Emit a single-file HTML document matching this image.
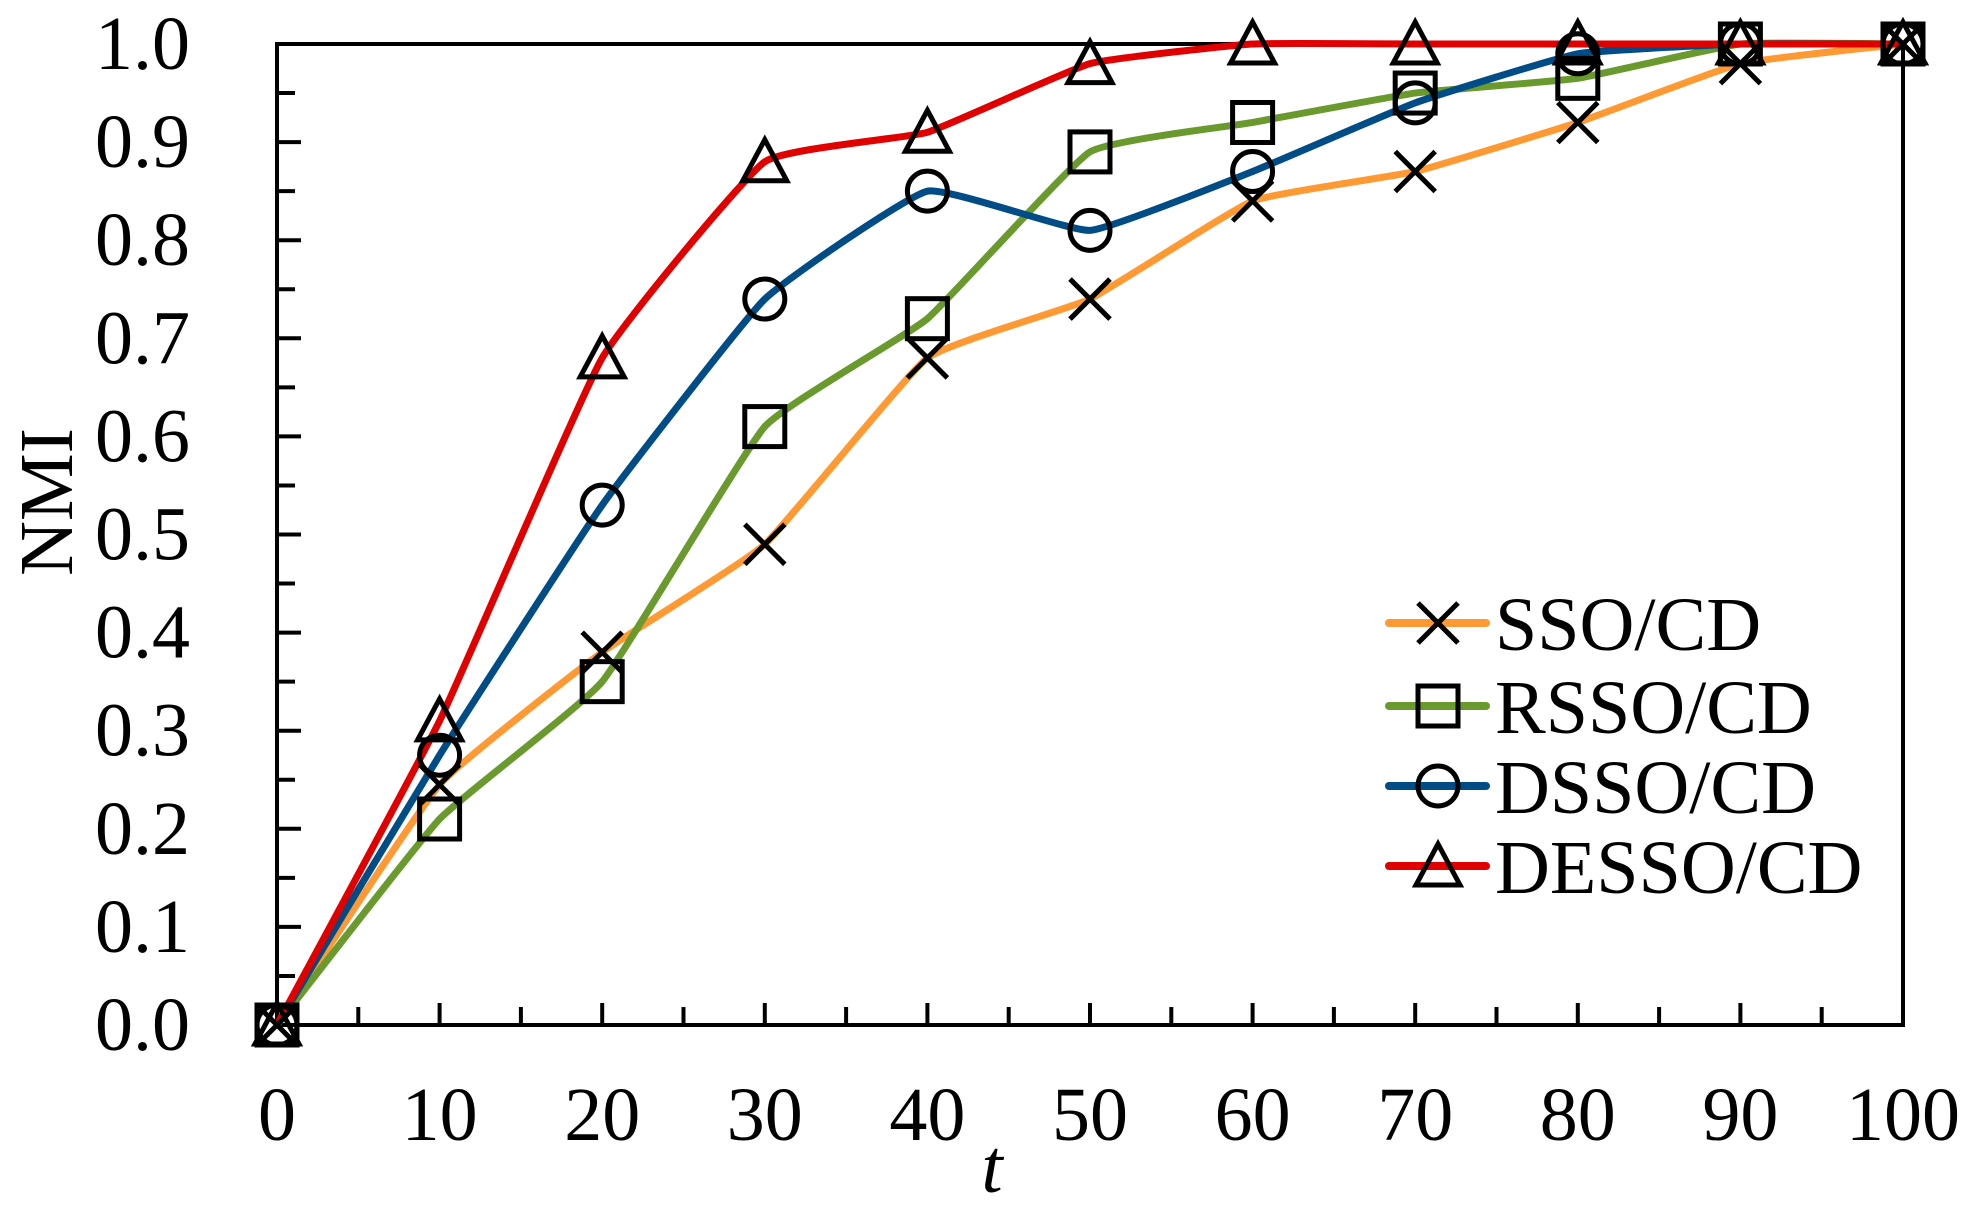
<!DOCTYPE html>
<html><head><meta charset="utf-8"><style>
html,body{margin:0;padding:0;background:#fff;}
svg{display:block;}
text{font-family:"Liberation Serif",serif;fill:#000;}
</style></head><body>
<svg id="s" width="1969" height="1211" viewBox="0 0 1969 1211" xmlns="http://www.w3.org/2000/svg"></svg>
<script>
const s=document.getElementById('s');
const X0=277,X1=1903,Y0=1025,Y1=44;
const px=t=>X0+(X1-X0)*t/100, py=v=>Y0-(Y0-Y1)*v;
let h='';
h+=`<rect x="${X0}" y="${Y1}" width="${X1-X0}" height="${Y0-Y1}" fill="none" stroke="#000" stroke-width="4"/>`;
for(let i=0;i<=20;i++){const y=py(i*0.05);const L=i%2==0?24:18;h+=`<line x1="${X0}" y1="${y}" x2="${X0+L}" y2="${y}" stroke="#000" stroke-width="4"/>`;
 if(i%2==0)h+=`<text x="190" y="${y+25}" font-size="76" text-anchor="end">${(i*0.05).toFixed(1)}</text>`;}
for(let i=0;i<=20;i++){const x=px(i*5);const L=i%2==0?22:18;h+=`<line x1="${x}" y1="${Y0}" x2="${x}" y2="${Y0-L}" stroke="#000" stroke-width="4"/>`;
 if(i%2==0)h+=`<text x="${x}" y="1140" font-size="76" text-anchor="middle">${i*5}</text>`;}
h+=`<text x="992" y="1192" font-size="76" font-style="italic" text-anchor="middle">t</text>`;
h+=`<text transform="translate(72,502) rotate(-90)" font-size="76" text-anchor="middle">NMI</text>`;
const T=[0,10,20,30,40,50,60,70,80,90,100];
const S=[
 {c:'#FF9933',m:'x',d:[0,0.245,0.38,0.49,0.68,0.74,0.84,0.87,0.92,0.98,1.0],n:'SSO/CD'},
 {c:'#6A9A2E',m:'s',d:[0,0.21,0.35,0.61,0.72,0.89,0.92,0.95,0.965,1.0,1.0],n:'RSSO/CD'},
 {c:'#004C86',m:'o',d:[0,0.275,0.53,0.74,0.85,0.81,0.87,0.94,0.99,1.0,1.0],n:'DSSO/CD'},
 {c:'#E00000',m:'t',d:[0,0.31,0.68,0.88,0.91,0.98,1.0,1.0,1.0,1.0,1.0],n:'DESSO/CD'}];
function path(p){let d=`M${p[0][0]},${p[0][1]}`;const k=0.06;
 for(let i=0;i<p.length-1;i++){const a=p[Math.max(i-1,0)],b=p[i],c=p[i+1],e=p[Math.min(i+2,p.length-1)];
  d+=` C${b[0]+(c[0]-a[0])*k},${b[1]+(c[1]-a[1])*k} ${c[0]-(e[0]-b[0])*k},${c[1]-(e[1]-b[1])*k} ${c[0]},${c[1]}`;}
 return d;}
function mk(m,x,y){const r=20;
 if(m=='x')return `<path d="M${x-r},${y-r}L${x+r},${y+r}M${x-r},${y+r}L${x+r},${y-r}" stroke="#000" stroke-width="5" fill="none"/>`;
 if(m=='s')return `<rect x="${x-r}" y="${y-r}" width="${2*r}" height="${2*r}" stroke="#000" stroke-width="5" fill="none"/>`;
 if(m=='o')return `<circle cx="${x}" cy="${y}" r="${r}" stroke="#000" stroke-width="5" fill="none"/>`;
 return `<path d="M${x},${y-22}L${x+22},${y+19}L${x-22},${y+19}Z" stroke="#000" stroke-width="5" fill="none"/>`;}
S.forEach(o=>{const p=T.map((t,i)=>[px(t),py(o.d[i])]);
 h+=`<path d="${path(p)}" stroke="${o.c}" stroke-width="7" fill="none" stroke-linejoin="round"/>`;});
S.forEach(o=>{T.forEach((t,i)=>{h+=mk(o.m,px(t),py(o.d[i]));});});
const LY=[623,706,786,866];
S.forEach((o,i)=>{h+=`<line x1="1389" y1="${LY[i]}" x2="1486" y2="${LY[i]}" stroke="${o.c}" stroke-width="8" stroke-linecap="round"/>`;
 h+=mk(o.m,1438,LY[i]);
 h+=`<text x="1495" y="${LY[i]+27}" font-size="76">${o.n}</text>`;});
s.innerHTML=h;
</script>
</body></html>
